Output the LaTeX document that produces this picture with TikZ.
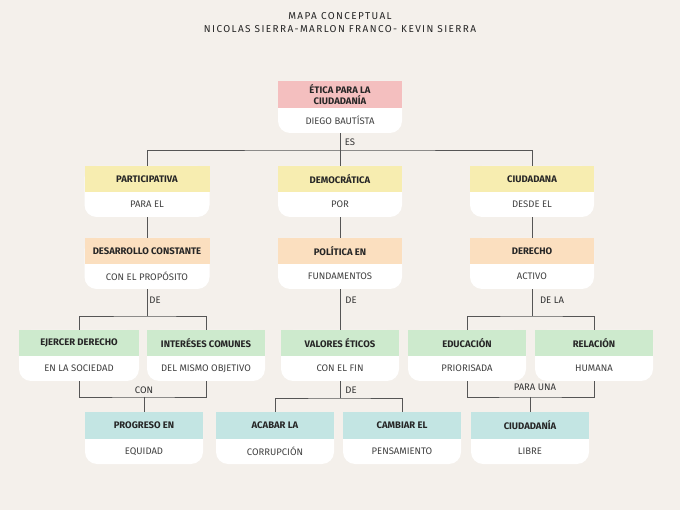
\documentclass[tikz,border=0pt]{standalone}
\usepackage{fontspec}
\setmainfont{Fira Sans}
\usetikzlibrary{calc}
\definecolor{bg}{HTML}{F4F0EB}
\definecolor{cpink}{HTML}{F4BFBF}
\definecolor{cyel}{HTML}{F7EDB0}
\definecolor{corg}{HTML}{FBDFBF}
\definecolor{cgrn}{HTML}{CDEACD}
\definecolor{cteal}{HTML}{C3E5E3}
\definecolor{ln}{HTML}{555555}
\tikzset{
  boxbody/.style={fill=white,rounded corners=12pt,inner sep=0pt},
  headtxt/.style={font=\fontsize{9.5}{11}\selectfont\bfseries,text=black!85,align=center,inner sep=0pt},
  subtxt/.style={font=\fontsize{9.5}{11}\selectfont,text=black!75,inner sep=0pt},
  conn/.style={draw=ln,line width=0.8pt},
  lbl/.style={font=\fontsize{9.5}{11}\selectfont,text=black!80,inner sep=1pt},
  ttl/.style={font=\fontsize{10}{12}\selectfont\addfontfeatures{LetterSpace=14},text=black!85},
}
% name, x, ytop, width, header height, color, head, sub
\newcommand\cbox[8]{%
  \node[boxbody,minimum width=#4pt,minimum height={#5pt+25pt}] (#1) at (#2,{#3+(#5+25)/2}) {};
  \fill[#6] (#2-#4/2,#3) rectangle (#2+#4/2,#3+#5);
  \node[headtxt] (#1h) at (#2,{#3+#5/2}) {#7};
  \node[subtxt] (#1s) at (#2,{#3+#5+12.5}) {#8};
}
\begin{document}
\begin{tikzpicture}[x=1pt,y=-1pt]
\fill[bg] (0,0) rectangle (680,510);
\useasboundingbox (0,0) rectangle (680,510);
\node[ttl] (t1) at (340,16) {MAPA CONCEPTUAL};
\node[ttl] (t2) at (340,29) {NICOLAS SIERRA-MARLON FRANCO- KEVIN SIERRA};

\cbox{root}{340}{81}{124}{27}{cpink}{ÉTICA PARA LA\\CIUDADANÍA}{DIEGO BAUTÍSTA}
\cbox{par}{147}{166}{125}{26}{cyel}{PARTICIPATIVA}{PARA EL}
\cbox{dem}{340}{166}{124}{26}{cyel}{DEMOCRÁTICA}{POR}
\cbox{ciu}{532}{166}{124}{26}{cyel}{CIUDADANA}{DESDE EL}
\cbox{des}{147}{238}{125}{26}{corg}{DESARROLLO CONSTANTE}{CON EL PROPÓSITO}
\cbox{pol}{340}{238}{124}{26}{corg}{POLÍTICA EN}{FUNDAMENTOS}
\cbox{der}{532}{238}{124}{26}{corg}{DERECHO}{ACTIVO}
\cbox{eje}{79}{330}{120}{26}{cgrn}{EJERCER DERECHO}{EN LA SOCIEDAD}
\cbox{int}{206}{330}{118}{26}{cgrn}{INTERÉSES COMUNES}{DEL MISMO OBJETIVO}
\cbox{val}{340}{330}{118}{26}{cgrn}{VALORES ÉTICOS}{CON EL FIN}
\cbox{edu}{467}{330}{118}{26}{cgrn}{EDUCACIÓN}{PRIORISADA}
\cbox{rel}{594}{330}{118}{26}{cgrn}{RELACIÓN}{HUMANA}
\cbox{pro}{144}{412}{118}{27}{cteal}{PROGRESO EN}{EQUIDAD}
\cbox{aca}{275}{412}{118}{27}{cteal}{ACABAR LA}{CORRUPCIÓN}
\cbox{cam}{402}{412}{118}{27}{cteal}{CAMBIAR EL}{PENSAMIENTO}
\cbox{cda}{530}{412}{118}{27}{cteal}{CIUDADANÍA}{LIBRE}

\coordinate (j0) at (340,150);
\draw[conn] (root.south) -- (j0);
\draw[conn] (par.north) |- (j0) -| (ciu.north);
\draw[conn] (j0) -- (dem.north);
\node[lbl] (l0) at (350,142) {ES};
\draw[conn] (par.south) -- (des.north);
\draw[conn] (dem.south) -- (pol.north);
\draw[conn] (ciu.south) -- (der.north);

\coordinate (j1) at (147,316);
\draw[conn] (des.south) -- (j1);
\draw[conn] (eje.north) |- (j1) -| (int.north);
\node[lbl] (l1) at (155,300) {DE};
\draw[conn] (pol.south) -- (val.north);
\node[lbl] (l2) at (351,300) {DE};
\coordinate (j2) at (532,316);
\draw[conn] (der.south) -- (j2);
\draw[conn] (edu.north) |- (j2) -| (rel.north);
\node[lbl] (l3) at (552,300) {DE LA};

\coordinate (j3) at (144,397);
\draw[conn] (eje.south) |- (j3) -| (int.south);
\draw[conn] (j3) -- (pro.north);
\node[lbl] (l4) at (144,390) {CON};
\coordinate (j4) at (340,398);
\draw[conn] (val.south) -- (j4);
\draw[conn] (aca.north) |- (j4) -| (cam.north);
\node[lbl] (l5) at (351,390) {DE};
\coordinate (j5) at (530,397);
\draw[conn] (edu.south) |- (j5) -| (rel.south);
\draw[conn] (j5) -- (cda.north);
\node[lbl] (l6) at (535,387) {PARA UNA};
\end{tikzpicture}
\end{document}
